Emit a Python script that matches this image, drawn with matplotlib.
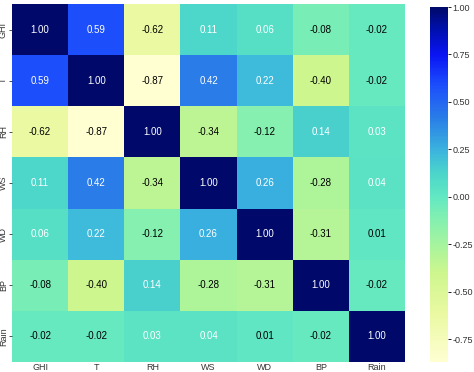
import numpy as np
import matplotlib
matplotlib.use("Agg")
import matplotlib.pyplot as plt
from matplotlib.colors import LinearSegmentedColormap, Normalize

labels = ["GHI", "T", "RH", "WS", "WD", "BP", "Rain"]
corr = np.array([
    [1.00, 0.59, -0.62, 0.11, 0.06, -0.08, -0.02],
    [0.59, 1.00, -0.87, 0.42, 0.22, -0.40, -0.02],
    [-0.62, -0.87, 1.00, -0.34, -0.12, 0.14, 0.03],
    [0.11, 0.42, -0.34, 1.00, 0.26, -0.28, 0.04],
    [0.06, 0.22, -0.12, 0.26, 1.00, -0.31, 0.01],
    [-0.08, -0.40, 0.14, -0.28, -0.31, 1.00, -0.02],
    [-0.02, -0.02, 0.03, 0.04, 0.01, -0.02, 1.00],
])
cbar_ticks = [-0.75, -0.50, -0.25, 0.00, 0.25, 0.50, 0.75, 1.00]

vmin, vmax = -0.87, 1.00
stops = [(-0.87, "#ffffd2"), (-0.62, "#eaf9a2"), (-0.40, "#cdf68e"),
         (-0.30, "#b2f598"), (-0.12, "#84f0b0"), (0.00, "#62e8c2"),
         (0.12, "#4cd6ca"), (0.25, "#3ab2de"), (0.42, "#2a7ce8"),
         (0.59, "#1c4efc"), (0.75, "#0a14f4"), (0.88, "#0010b0"), (1.00, "#00096a")]
cmap = LinearSegmentedColormap.from_list(
    "custom", [((v - vmin) / (vmax - vmin), c) for v, c in stops])

plt.rcParams["font.family"] = ["Liberation Sans", "DejaVu Sans"]
fig = plt.figure(figsize=(4.74, 3.72), dpi=100)
W, H = 474, 372
ax = fig.add_axes([12 / W, 1 - 362 / H, (405 - 12) / W, (362 - 4) / H])
cax = fig.add_axes([430 / W, 1 - 362 / H, (448 - 430) / W, (362 - 7) / H])

norm = Normalize(vmin=vmin, vmax=vmax)
mesh = ax.pcolormesh(corr, cmap=cmap, norm=norm)
ax.set_xlim(0, 7)
ax.set_ylim(7, 0)
n = len(labels)
for i in range(n):
    for j in range(n):
        v = corr[i, j]
        col = "white" if v > 0.02 else "black"
        ax.text(j + 0.5, i + 0.5, f"{v:.2f}", ha="center", va="center",
                fontsize=7, color=col)
ax.set_xticks(np.arange(n) + 0.5)
ax.set_xticklabels(labels, fontsize=6.5, color="#333333")
ax.set_yticks(np.arange(n) + 0.5)
ax.set_yticklabels(labels, fontsize=6.5, rotation=90, va="center", color="#333333")
ax.tick_params(axis="x", length=0, pad=1)
ax.tick_params(axis="y", length=2, width=0.6, pad=1, color="#333333")
for s in ax.spines.values():
    s.set_visible(False)

cb = fig.colorbar(mesh, cax=cax, ticks=cbar_ticks)
cb.outline.set_visible(False)
cb.ax.set_yticklabels([f"{t:.2f}" for t in cbar_ticks])
cb.ax.tick_params(labelsize=6.5, length=2, width=0.6, pad=1, labelcolor="#333333")

fig.savefig("out.png", dpi=100)
